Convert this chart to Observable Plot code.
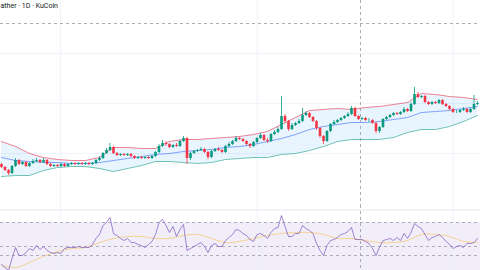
<!DOCTYPE html>
<html><head><meta charset="utf-8">
<script src="https://cdn.jsdelivr.net/npm/d3@7"></script>
<script src="https://cdn.jsdelivr.net/npm/@observablehq/plot@0.6"></script>
<style>
html,body{margin:0;padding:0;background:#fff;}
#chart svg{display:block;}
</style>
</head><body><div id="chart"></div>
<script>
// ---- Data (price in arbitrary units, daily candles; open = previous close) ----
const title = "ather · 1D · KuCoin";
const firstOpen = 36;
const closes = [33,30,27,34,40,36,38,34,37,39,40,38,40,36,34,35,34,36,34,36,37,36,37,36,37,36,37,40,42,47,
  50,53,47,45,46,45,46,44,42,43,42,43,42,44,48,54,57,56,53,55,54,59,62,42,47,49,50,51,48,43,
  49,51,50,48,54,56,59,62,61,59,56,54,58,62,65,60,59,66,68,71,84,79,71,75,77,79,85,87,83,79,
  72,64,59,69,76,78,80,82,84,86,92,84,81,82,80,80,77,69,73,81,83,85,87,86,88,91,89,96,106,103,
  104,98,96,98,97,100,96,94,91,88,88,90,91,88,91,96,97];
const highs = [37,34,31,35,42,41,39,39,38,41,42,41,42,41,37,36,36,37,37,37,38,38,38,38,38,38,38,41,44,48,
  52,57,54,48,47,47,47,47,45,44,44,44,44,45,49,56,60,59,57,56,57,60,64,63,48,50,51,53,52,49,
  50,52,53,51,55,58,60,64,63,62,60,57,59,63,67,66,62,67,70,73,104,86,80,77,78,81,92,89,88,84,
  80,73,65,70,77,80,81,83,85,88,94,93,85,83,83,82,81,78,74,82,84,86,88,88,89,93,92,98,113,108,
  105,105,99,99,99,101,101,97,95,92,90,91,93,92,92,105,99];
const lows = [32,29,25,26,33,35,35,33,33,36,38,37,37,35,33,33,33,33,33,33,35,35,35,35,35,35,35,36,39,41,
  46,49,46,44,44,44,44,43,41,41,41,41,41,41,43,47,53,54,52,52,53,53,58,36,40,46,48,49,47,41,
  42,48,49,47,47,53,55,58,60,58,55,52,53,57,61,59,57,58,65,67,70,77,69,70,74,76,78,84,82,78,
  70,62,56,58,68,75,77,79,81,83,85,83,80,80,79,78,76,67,67,72,80,82,84,85,85,87,88,88,95,102,
  102,97,95,95,96,96,95,93,90,87,87,87,89,87,87,90,95];

// Bollinger Bands read every 4th candle
const bandIndex = [0,4,8,12,16,20,24,28,32,36,40,44,48,52,56,60,64,68,72,76,80,84,88,92,96,100,104,108,112,116,120,124,128,132,136];
const bandUpper = [59,54,47,43,41,40,40,43,53,53,52,52,59,61,61,62,63,64,66,69,76,83,90,91,92,91,93,94,96,98,107,106,104,103,101];
const bandBasis = [43,40,39,38,38,37,37,38,40,42,44,46,47,49,50,51,53,54,56,59,62,66,71,74,76,78,78,79,81,83,88,89,90,92,94];
const bandLower = [24,25,25,30,33,34,34,32,29,32,35,39,39,38,37,38,41,42,43,43,46,47,50,54,59,61,61,61,63,68,71,71,74,79,85];

// RSI (one value per candle) and its moving average (every 4th candle)
const rsi = [35.0,32.5,30.0,40.0,49.2,42.5,42.5,45.0,48.3,46.7,50.8,47.5,50.0,46.7,45.0,44.2,45.0,44.2,48.3,49.2,
  49.2,49.2,50.0,49.2,49.2,49.2,51.7,56.7,60.0,67.5,70.0,74.2,60.8,59.2,56.7,55.0,56.7,53.3,53.3,51.7,
  50.8,49.2,51.7,54.2,60.0,70.0,72.5,67.5,61.7,66.7,58.3,64.2,68.3,46.7,48.3,50.0,51.7,53.3,50.0,45.0,
  50.8,52.5,50.0,50.0,55.0,57.5,60.0,64.2,63.3,60.8,59.2,55.8,54.2,60.0,60.8,59.2,56.7,61.7,65.0,65.8,
  75.8,66.7,58.3,58.3,60.8,60.8,67.5,65.0,63.3,60.8,52.5,46.7,42.5,50.8,55.0,55.8,57.5,60.0,60.8,62.5,
  65.8,55.8,55.8,55.8,54.2,52.5,48.3,42.5,49.2,55.0,55.8,56.7,55.0,57.5,55.0,60.8,56.7,61.7,69.2,66.7,
  65.0,60.0,55.0,57.5,58.3,60.0,57.5,54.2,51.7,48.3,50.0,50.8,49.2,52.5,52.5,53.3,56.7];
const rsiMA = [34.2,32.5,36.7,41.7,45.8,48.3,49.2,53.3,56.7,58.3,58.3,56.7,56.7,59.2,60.0,56.7,53.3,54.2,56.7,59.2,
  60.8,61.7,61.7,60.0,56.7,56.7,55.0,53.3,53.3,55.0,60.0,60.0,58.3,54.2,53.3];
const rsiLevels = [70, 50, 42.5];

// chart furniture
const gridIndex = [16.9, 73.1, 129.1];
const gridPrice = [147, 97, 47];
const crossIndex = 102.57;
const crossPrice = 177;

// ---- Build tables ----
const candles = closes.map((c, i) => ({i, open: i === 0 ? firstOpen : closes[i - 1], close: c, high: highs[i], low: lows[i]}));
const up = candles.filter(d => d.close >= d.open);
const down = candles.filter(d => d.close < d.open);
const bands = bandIndex.map((i, k) => ({i, upper: bandUpper[k], basis: bandBasis[k], lower: bandLower[k]}));
const rsiData = rsi.map((v, i) => ({i, v}));
const maData = bandIndex.map((i, k) => ({i, v: rsiMA[k]}));

const xDomain = [-0.286, 136.857];
const UP = "#089981", DOWN = "#F23645";
const gridColor = "#F0F3FA";
const crossStyle = {stroke: "#9598A1", strokeWidth: 0.8, strokeDasharray: "3,3"};

const main = Plot.plot({
  width: 480, height: 205,
  margin: 0,
  x: {domain: xDomain, axis: null},
  y: {domain: [-5, 200], axis: null},
  marks: [
    Plot.ruleY(gridPrice, {stroke: gridColor}),
    Plot.ruleX(gridIndex, {stroke: gridColor}),
    Plot.areaY(bands, {x: "i", y1: "lower", y2: "upper", fill: "#2196F3", fillOpacity: 0.1}),
    Plot.lineY(bands, {x: "i", y: "upper", stroke: DOWN, strokeWidth: 0.8, strokeOpacity: 0.75}),
    Plot.lineY(bands, {x: "i", y: "basis", stroke: "#2962FF", strokeWidth: 0.8, strokeOpacity: 0.7}),
    Plot.lineY(bands, {x: "i", y: "lower", stroke: UP, strokeWidth: 0.8, strokeOpacity: 0.75}),
    Plot.ruleX(up, {x: "i", y1: "low", y2: "high", stroke: UP, strokeWidth: 0.8}),
    Plot.ruleX(down, {x: "i", y1: "low", y2: "high", stroke: DOWN, strokeWidth: 0.8}),
    Plot.ruleX(up, {x: "i", y1: "open", y2: "close", stroke: UP, strokeWidth: 2.6}),
    Plot.ruleX(down, {x: "i", y1: "open", y2: "close", stroke: DOWN, strokeWidth: 2.6}),
    Plot.ruleX([crossIndex], crossStyle),
    Plot.ruleY([crossPrice], crossStyle),
    Plot.text([title], {frameAnchor: "top-left", dx: 0, dy: 3, lineAnchor: "top", textAnchor: "start",
      fontSize: 7, fill: "#131722", fontFamily: "Roboto, sans-serif"})
  ]
});

const lower = Plot.plot({
  width: 480, height: 65,
  margin: 0,
  x: {domain: xDomain, axis: null},
  y: {domain: [30, 84.1667], axis: null},
  marks: [
    Plot.rect([{a: xDomain[0], b: xDomain[1], lo: 30, hi: 70}], {x1: "a", x2: "b", y1: "lo", y2: "hi", fill: "#7E57C2", fillOpacity: 0.1}),
    Plot.ruleX(gridIndex, {stroke: gridColor}),
    Plot.ruleY([80.4], {stroke: "#E6E8EE"}),
    Plot.ruleY(rsiLevels, {stroke: "#787B86", strokeOpacity: 0.7, strokeWidth: 0.8, strokeDasharray: "3,3"}),
    Plot.line(maData, {x: "i", y: "v", stroke: "#F5C45E", strokeOpacity: 0.75, strokeWidth: 0.9, curve: "catmull-rom"}),
    Plot.line(rsiData, {x: "i", y: "v", stroke: "#7E57C2", strokeWidth: 0.8, strokeOpacity: 0.9}),
    Plot.ruleX([crossIndex], crossStyle)
  ]
});

document.getElementById("chart").append(main, lower);
</script>
</body></html>
